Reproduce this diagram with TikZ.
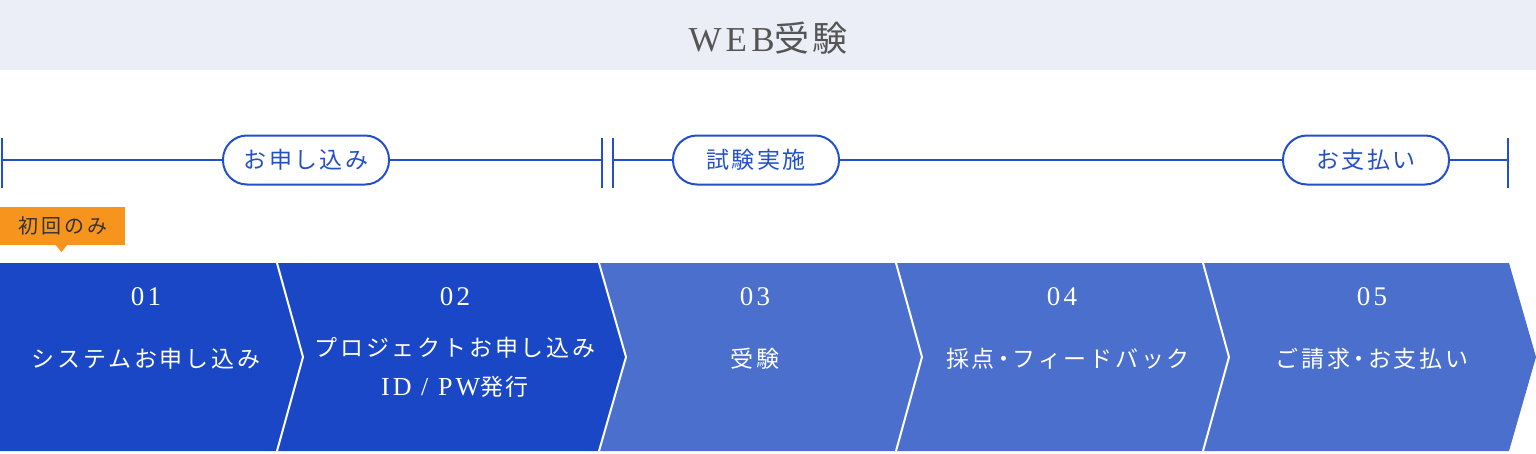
\documentclass[tikz,border=0pt]{standalone}
\usepackage{fontspec}
\setmainfont{Liberation Serif}[LetterSpace=12]
\newfontfamily\cjk{Noto Sans CJK JP}[LetterSpace=10]
\definecolor{hdrbg}{RGB}{235,238,246}
\definecolor{hdrtxt}{RGB}{85,85,85}
\definecolor{tlblue}{RGB}{35,80,200}
\definecolor{badge}{RGB}{247,148,30}
\definecolor{badgetxt}{RGB}{51,51,51}
\definecolor{dark}{RGB}{26,71,198}
\definecolor{light}{RGB}{74,111,205}
\newcommand{\mdot}{\kern-2.5pt・\kern-2.5pt}
\tikzset{
  pill/.style={draw=tlblue, line width=2pt, fill=white, rounded corners=24pt,
    minimum width=166pt, minimum height=49pt, inner sep=0pt, text=tlblue,
    font=\cjk\fontsize{23}{28}\selectfont},
  tl/.style={draw=tlblue, line width=2pt},
  num/.style={text=white, font=\fontsize{27}{30}\selectfont\addfontfeature{LetterSpace=12}},
  lbl/.style={text=white, align=center, font=\cjk\fontsize{23}{39}\selectfont\addfontfeature{LetterSpace=12}},
  sep/.style={draw=white, line width=2pt}
}
\begin{document}
\begin{tikzpicture}[x=1pt,y=-1pt]
\useasboundingbox (0,0) rectangle (1536,453);
% header
\fill[hdrbg] (0,0) rectangle (1536,70);
\node[text=hdrtxt, font=\fontsize{35}{40}\selectfont\addfontfeature{LetterSpace=12}] (title) at (768,38) {WEB{\cjk\addfontfeature{LetterSpace=8}受験}};
% timeline
\coordinate (tL) at (2,160);
\coordinate (tM1) at (602,160);
\coordinate (tM2) at (613,160);
\coordinate (tR) at (1508,160);
\draw[tl] (2,138) -- (2,188);
\draw[tl] (602,138) -- (602,188);
\draw[tl] (613,138) -- (613,188);
\draw[tl] (1508,138) -- (1508,188);
\draw[tl] (tL) -- (tM1);
\draw[tl] (tM2) -- (tR);
\node[pill] (p1) at (306,160) {お申し込み};
\node[pill] (p2) at (756,160) {試験実施};
\node[pill] (p3) at (1366,160) {お支払い};
% chevrons
\fill[dark] (0,263) -- (277,263) -- (303,357) -- (277,451) -- (0,451) -- cycle;
\fill[dark] (277,263) -- (599,263) -- (626,357) -- (599,451) -- (277,451) -- (303,357) -- cycle;
\fill[light] (599,263) -- (896,263) -- (922,357) -- (896,451) -- (599,451) -- (626,357) -- cycle;
\fill[light] (896,263) -- (1203,263) -- (1229,357) -- (1203,451) -- (896,451) -- (922,357) -- cycle;
\fill[light] (1203,263) -- (1509,263) -- (1536,357) -- (1509,451) -- (1203,451) -- (1229,357) -- cycle;
\draw[sep] (277,263) -- (303,357) -- (277,451);
\draw[sep] (599,263) -- (626,357) -- (599,451);
\draw[sep] (896,263) -- (922,357) -- (896,451);
\draw[sep] (1203,263) -- (1229,357) -- (1203,451);
% badge
\fill[badge] (0,207) rectangle (125,245);
\fill[badge] (55,244) -- (68,244) -- (61.5,252) -- cycle;
\node[text=badgetxt, font=\cjk\fontsize{20}{24}\selectfont\addfontfeature{LetterSpace=16}] (b) at (63,226) {初回のみ};
% step texts
\node[num] (n1) at (146,297) {01};
\node[num] (n2) at (455,297) {02};
\node[num] (n3) at (755,297) {03};
\node[num] (n4) at (1062,297) {04};
\node[num] (n5) at (1372,297) {05};
\node[lbl] (s1) at (146,359) {システムお申し込み};
\node[lbl] (s2) at (455,367) {プロジェクトお申し込み\\{\rmfamily\fontsize{26}{39}\selectfont\addfontfeature{LetterSpace=12}ID / PW}発行};
\node[lbl] (s3) at (755,359) {受験};
\node[lbl] (s4) at (1068,359) {採点\mdot フィードバック};
\node[lbl] (s5) at (1372,359) {ご請求\mdot お支払い};
\end{tikzpicture}
\end{document}
